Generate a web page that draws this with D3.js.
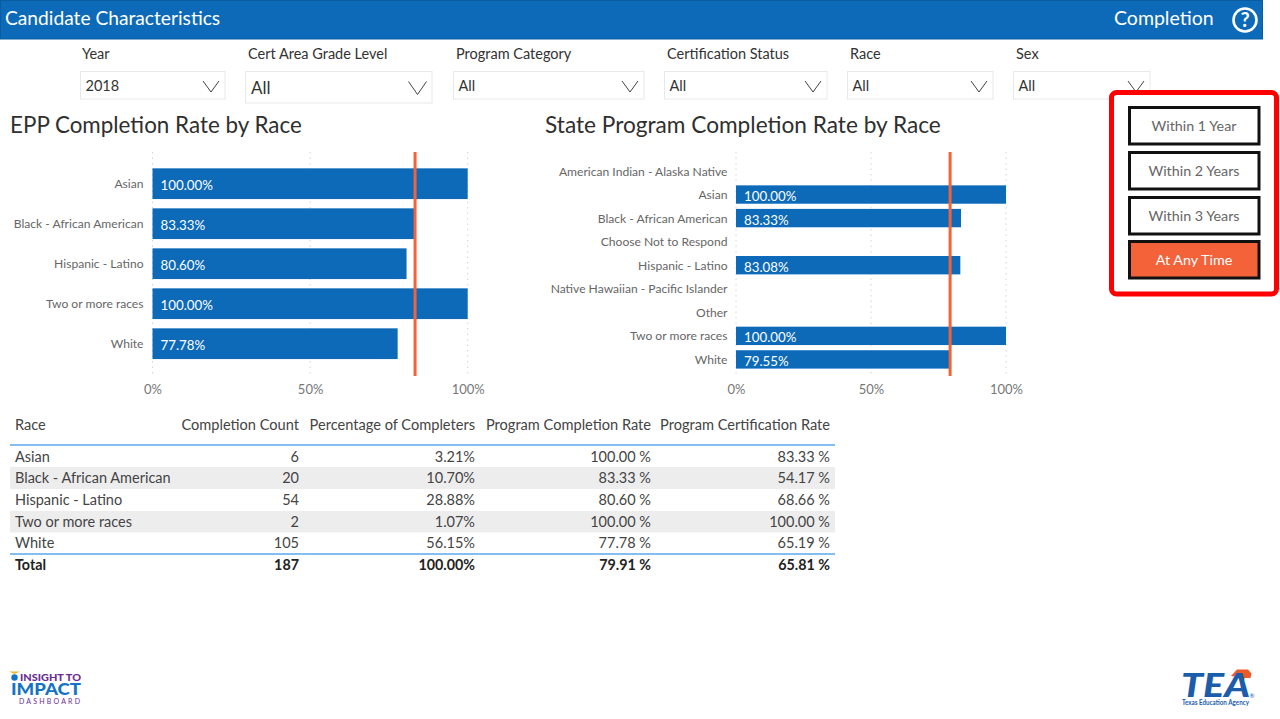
<!DOCTYPE html>
<html><head><meta charset="utf-8">
<script src="https://cdn.jsdelivr.net/npm/d3@7/dist/d3.min.js"></script>
<style>
html,body{margin:0;padding:0;background:#fff;overflow:hidden}
svg{display:block}
text{font-family:Lato,"Open Sans",sans-serif}
.domain{display:none}
.dl{font-size:13.3px;fill:#fff}
</style></head><body><svg id="c" width="1280" height="719"></svg>
<script>
const eppRaces=["Asian","Black - African American","Hispanic - Latino","Two or more races","White"];
const eppRates=[100,83.33,80.60,100,77.78];
const eppReference=83.3;
const stateRaces=["American Indian - Alaska Native","Asian","Black - African American","Choose Not to Respond","Hispanic - Latino","Native Hawaiian - Pacific Islander","Other","Two or more races","White"];
const stateRates=[null,100,83.33,null,83.08,null,null,100,79.55];
const stateReference=79.3;
const axisTicks=[0,50,100];
const filterNames=["Year","Cert Area Grade Level","Program Category","Certification Status","Race","Sex"];
const filterValues=["2018","All","All","All","All","All"];
const buttonNames=["Within 1 Year","Within 2 Years","Within 3 Years","At Any Time"];
const tableHeaders=["Race","Completion Count","Percentage of Completers","Program Completion Rate","Program Certification Rate"];
const tableRaces=["Asian","Black - African American","Hispanic - Latino","Two or more races","White"];
const tableCounts=["6","20","54","2","105"];
const tableShares=["3.21%","10.70%","28.88%","1.07%","56.15%"];
const tableCompletion=["100.00 %","83.33 %","80.60 %","100.00 %","77.78 %"];
const tableCertification=["83.33 %","54.17 %","68.66 %","100.00 %","65.19 %"];
const tableTotal=["Total","187","100.00%","79.91 %","65.81 %"];

const BLUE="#0d6ab9",ORANGE="#f4623a",INK="#333",GREY="#777";
const svg=d3.select("#c");

// header
svg.append("rect").attr("x",0.5).attr("y",0.5).attr("width",1262).attr("height",38.5).attr("fill",BLUE).attr("stroke","#0a5c9f");
svg.append("text").attr("x",5).attr("y",24.5).attr("font-size",19.2).attr("fill","#fff").text("Candidate Characteristics");
svg.append("text").attr("x",1114).attr("y",25).attr("font-size",19.5).attr("fill","#fff").text("Completion");
svg.append("circle").attr("cx",1245).attr("cy",20).attr("r",11.5).attr("fill","none").attr("stroke","#fff").attr("stroke-width",2.6);
svg.append("text").attr("x",1245).attr("y",27).attr("text-anchor","middle").attr("font-size",20).attr("font-weight",700).attr("fill","#fff").text("?");

// filters
const filterBox=[[80,144.5,27.5],[245,186.5,31.5],[453,190.5,27.5],[664,162.5,27.5],[847,145.5,27.5],[1013,136.5,27.5]];
const filterLabelX=[82,248,456,667,850,1016];
filterNames.forEach((n,i)=>{
  const [x,w,h]=filterBox[i];
  svg.append("text").attr("x",filterLabelX[i]).attr("y",59).attr("font-size",14.5).attr("fill",INK).text(n);
  svg.append("rect").attr("x",x+.5).attr("y",71.5).attr("width",w).attr("height",h).attr("fill","#fff").attr("stroke","#e8e8e8");
  const big=i===1;
  svg.append("text").attr("x",x+(big?6:5.5)).attr("y",big?94:91).attr("font-size",big?17:14.5).attr("fill",INK).text(filterValues[i]);
  const cx=x+w-(big?14:13.5),cy=big?88:86.5,hw=big?9:8,hh=big?6.5:5.5;
  svg.append("path").attr("d",d3.line()([[cx-hw,cy-hh],[cx,cy+hh],[cx+hw,cy-hh]])).attr("fill","none").attr("stroke","#444").attr("stroke-width",1);
});

// charts
function barChart(title,titleX,titleSize,cats,vals,ref,x0,x1,y0,y1,pad,labelX){
  svg.append("text").attr("x",titleX).attr("y",133).attr("font-size",titleSize).attr("fill","#2f2f2f").text(title);
  const x=d3.scaleLinear().domain([0,100]).range([x0,x1]);
  const y=d3.scaleBand().domain(cats).range([y0,y1]).paddingInner(pad).paddingOuter(pad/2);
  const g=svg.append("g");
  g.selectAll(".gl").data(axisTicks).join("line")
    .attr("x1",d=>x(d)).attr("x2",d=>x(d)).attr("y1",152).attr("y2",376)
    .attr("stroke","#d4d4d4").attr("stroke-dasharray","1.5 4");
  g.selectAll(".b").data(cats.map((c,i)=>({c,v:vals[i]})).filter(d=>d.v!=null)).join("rect")
    .attr("x",x(0)).attr("y",d=>y(d.c)).attr("width",d=>x(d.v)-x(0)).attr("height",y.bandwidth()).attr("fill",BLUE);
  g.selectAll(".dl").data(cats.map((c,i)=>({c,v:vals[i]})).filter(d=>d.v!=null)).join("text").attr("class","dl")
    .attr("x",x(0)+8).attr("y",d=>y(d.c)+y.bandwidth()/2+6.5).text(d=>d.v.toFixed(2)+"%");
  svg.append("line").attr("x1",x(ref)).attr("x2",x(ref)).attr("y1",152).attr("y2",376).attr("stroke",ORANGE).attr("stroke-width",3);
  const ax=svg.append("g").attr("transform","translate(0,378.5)").call(d3.axisBottom(x).tickValues(axisTicks).tickFormat(d=>d+"%").tickSize(0).tickPadding(6));
  ax.selectAll("text").attr("font-size",13).attr("fill",GREY).style("font-family","Lato");
  const ay=svg.append("g").attr("transform",`translate(${labelX},0.7)`).call(d3.axisLeft(y).tickSize(0).tickPadding(0));
  ay.selectAll("text").attr("font-size",12.1).attr("fill","#666").style("font-family","Lato");
}
barChart("EPP Completion Rate by Race",10,22.4,eppRaces,eppRates,eppReference,152.5,467.7,163.7,363.7,.232,143.5);
barChart("State Program Completion Rate by Race",545,22.65,stateRaces,stateRates,stateReference,736,1006,159.2,371.2,.22,727.5);

// slicer
svg.append("rect").attr("x",1111.5).attr("y",92.5).attr("width",165).attr("height",201.5).attr("rx",5).attr("fill","#fff").attr("stroke","#f00").attr("stroke-width",5);
const buttonY=[107.5,152.5,197.5,241.5];
buttonNames.forEach((n,i)=>{
  const on=i===3;
  svg.append("rect").attr("x",1129.5).attr("y",buttonY[i]).attr("width",129.5).attr("height",36.5).attr("fill",on?ORANGE:"#fff").attr("stroke","#111").attr("stroke-width",3);
  svg.append("text").attr("x",1194).attr("y",buttonY[i]+23.8).attr("text-anchor","middle").attr("font-size",14.3).attr("fill",on?"#fff":"#666").text(n);
});

// table
const rowY=[461.5,483,505,526.5,548];
const colX=[15,299,475,651,830];
tableHeaders.forEach((h,i)=>svg.append("text").attr("x",colX[i]).attr("y",430).attr("text-anchor",i?"end":"start").attr("font-size",14.6).attr("fill","#444").text(h));
[[467,22],[511,21.5]].forEach(([y,h])=>svg.append("rect").attr("x",10).attr("y",y).attr("width",825).attr("height",h).attr("fill","#eeedee"));
[445,554].forEach(y=>svg.append("line").attr("x1",10).attr("x2",835).attr("y1",y).attr("y2",y).attr("stroke","#5aa7ec").attr("stroke-width",1.3));
const cols=[tableRaces,tableCounts,tableShares,tableCompletion,tableCertification];
cols.forEach((col,i)=>col.forEach((v,r)=>svg.append("text").attr("x",colX[i]).attr("y",rowY[r]).attr("text-anchor",i?"end":"start").attr("font-size",14.5).attr("fill","#444").text(v)));
tableTotal.forEach((v,i)=>svg.append("text").attr("x",colX[i]).attr("y",570).attr("text-anchor",i?"end":"start").attr("font-size",14.3).attr("font-weight",700).attr("fill","#222").text(v));

// logos
const L=svg.append("g");
L.append("path").attr("d","M9 671.5h11l-5.5 2.6z").attr("fill","#f2b632");
L.append("circle").attr("cx",14.5).attr("cy",677.5).attr("r",3.2).attr("fill","#1473c4");
L.append("text").attr("x",20).attr("y",680.5).attr("font-size",10).attr("font-weight",900).attr("fill","#6a2c91").attr("textLength",61).attr("lengthAdjust","spacingAndGlyphs").text("INSIGHT TO");
L.append("text").attr("x",11).attr("y",695).attr("font-size",17.5).attr("font-weight",900).attr("fill","#1473c4").attr("textLength",70).attr("lengthAdjust","spacingAndGlyphs").text("IMPACT");
L.append("text").attr("x",19).attr("y",703.5).attr("font-size",7).attr("fill","#6a2c91").attr("textLength",61).text("DASHBOARD");
const T=svg.append("g");
T.append("path").attr("d","M1231 676l6-6.5h11l3.5 4-1 4.5h-5.5l-4 6-3-7z").attr("fill","#ea5a2c");
T.append("text").attr("x",1181).attr("y",697).attr("font-size",33).attr("font-weight",900).attr("font-style","italic").attr("fill","#1b5cab").attr("textLength",69).attr("lengthAdjust","spacingAndGlyphs").text("TEA");
T.append("text").attr("x",1249.5).attr("y",698).attr("font-size",6).attr("fill","#1b5cab").text("®");
T.append("text").attr("x",1182).attr("y",705).attr("font-size",7).attr("font-weight",700).attr("fill","#1b5cab").attr("textLength",67).attr("lengthAdjust","spacingAndGlyphs").text("Texas Education Agency");
</script></body></html>
